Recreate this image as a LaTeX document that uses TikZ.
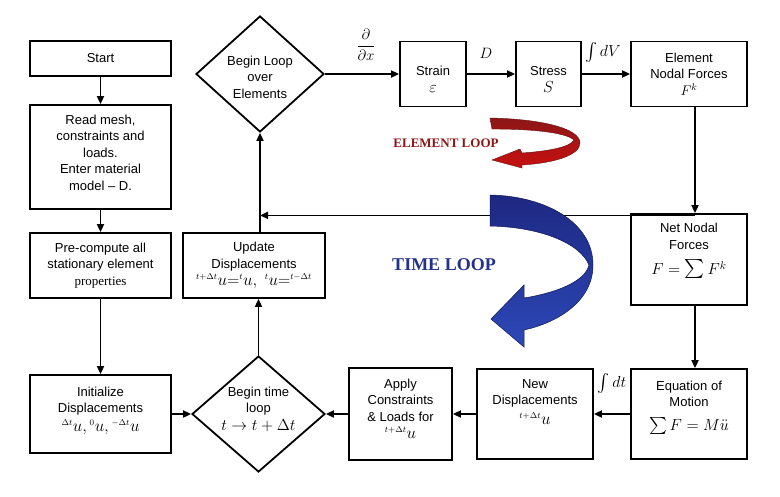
\documentclass[tikz,border=0pt]{standalone}
\usepackage{fix-cm}
\usepackage{graphicx}
\usepackage{fontspec}
\setmainfont{Liberation Sans}
\newfontfamily\loopserif{Liberation Serif}
\usetikzlibrary{arrows.meta,shapes.geometric,calc}
\definecolor{elred}{RGB}{140,22,22}
\definecolor{elredlight}{RGB}{200,16,16}
\definecolor{tlblue}{RGB}{36,50,140}
\definecolor{tlbluedark}{RGB}{30,40,130}
\definecolor{tlbluelight}{RGB}{44,72,184}
\newcommand{\bigsum}[1]{\mathop{\raisebox{-0.25ex}{\scalebox{#1}{$\textstyle\sum$}}}}
\newcommand{\bigint}[1]{\mathop{\raisebox{-0.3ex}{\scalebox{#1}{$\textstyle\int$}}}}
\newcommand{\sss}{\scriptscriptstyle}
\begin{document}
\begin{tikzpicture}[x=1pt,y=-1pt,
  box/.style={draw,line width=1.8pt,rectangle,inner sep=2pt,align=center,
    font=\fontsize{13}{16.5}\selectfont},
  dia/.style={draw,line width=1.8pt,diamond,inner sep=0pt},
  txt/.style={align=center,inner sep=0pt,font=\fontsize{13}{16.5}\selectfont},
  lbl/.style={inner sep=0pt,font=\fontsize{15}{16}\selectfont},
  conn/.style={line width=1.8pt,-{Triangle[length=8pt,width=7pt]}},
  loopl/.style={inner sep=0pt,font=\loopserif\bfseries}]
\useasboundingbox (0,0) rectangle (780,496);
\fill[white] (0,0) rectangle (780,496);

% left column
\node[box,minimum width=141pt,minimum height=35pt] (start) at (100.5,58.5) {Start};
\node[box,minimum width=141pt,minimum height=104pt] (read) at (100.5,157)
  {Read mesh,\\constraints and\\loads.\\Enter material\\model -- D.\\[-8pt]};
\node[box,minimum width=141pt,minimum height=65pt] (pre) at (100.5,265.5)
  {Pre-compute all\\stationary element\\{\loopserif properties}};
\node[box,minimum width=141pt,minimum height=78pt] (init) at (100.5,414)
  {Initialize\\Displacements\\[2pt]{\fontsize{17}{18}\selectfont$^{\sss\Delta t}u,{}^{\sss 0}u,{}^{\sss-\Delta t}u$}\\[-7pt]};

% middle column
\node[box,minimum width=142pt,minimum height=65pt] (upd) at (254,265.5)
  {Update\\Displacements\\[1pt]{\fontsize{17}{16}\selectfont$^{\sss t+\Delta t}u{=}{}^{\sss t}u,\;{}^{\sss t}u{=}{}^{\sss t-\Delta t}$}};
\node[dia,minimum width=128pt,minimum height=116pt] (bel) at (260,74) {};
\node[txt] (beltext) at (260,77) {Begin Loop\\over\\Elements};
\node[dia,minimum width=133pt,minimum height=116pt] (tdia) at (258.5,414) {};
\node[txt] (tdiatext) at (258.5,409) {Begin time\\loop\\[1pt]{\fontsize{16}{17}\selectfont$t\rightarrow t+\Delta t$}};

% top row
\node[box,minimum width=66pt,minimum height=65pt] (strain) at (433,74)
  {\rule{0pt}{20pt}Strain\\{\fontsize{16}{14}\selectfont$\varepsilon$}};
\node[box,minimum width=65pt,minimum height=65pt] (stress) at (548.5,74)
  {\rule{0pt}{20pt}Stress\\{\fontsize{16}{14}\selectfont$S$}};
\node[box,minimum width=116pt,minimum height=65pt] (enf) at (689,74)
  {Element\\Nodal Forces\\{\fontsize{14}{16}\selectfont$F^{k}$}};

% right column and bottom row
\node[box,minimum width=116pt,minimum height=91pt] (net) at (689,259.5)
  {Net Nodal\\Forces\\[9pt]{\fontsize{16}{18}\selectfont$F=\bigsum{1.9}F^{k}$}\\[4pt]};
\node[box,minimum width=116pt,minimum height=90pt] (eom) at (689,414)
  {Equation of\\Motion\\[7pt]{\fontsize{16}{18}\selectfont$\bigsum{1.7}F=M\ddot{u}$}\\[0pt]};
\node[box,minimum width=116pt,minimum height=90pt] (new) at (535,414)
  {New\\Displacements\\[3pt]{\fontsize{17}{18}\selectfont$^{\sss t+\Delta t}u$}\\[8pt]};
\node[box,minimum width=103pt,minimum height=92pt] (apply) at (400.5,414)
  {Apply\\Constraints\\\& Loads for\\[1pt]{\fontsize{17}{16}\selectfont$^{\sss t+\Delta t}u$}\\[-6pt]};

% connector labels
\node[lbl] (ddx) at (366,45) {$\displaystyle\frac{\partial}{\partial x}$};
\node[lbl] (dlab) at (486,53) {$D$};
\node[lbl,font=\fontsize{16}{17}\selectfont] (dvlab) at (603,52) {$\bigint{1.8}dV$};
\node[lbl,font=\fontsize{16}{17}\selectfont] (dtlab) at (612,383) {$\bigint{1.8}dt$};

% connectors
\draw[conn] (start) -- (read);
\draw[conn] (read) -- (pre);
\draw[conn] (pre) -- (init);
\draw[conn] (init.east) -- (tdia.west);
\draw[conn] (tdia.north) -- (tdia.north |- upd.south);
\draw[conn] (upd.north -| bel.south) -- (bel.south);
\draw[conn] (bel.east) -- (strain.west);
\draw[conn] (strain) -- (stress);
\draw[conn] (stress) -- (enf);
\coordinate (junc) at ($(enf.south)+(6,108)$);
\draw[conn] ([xshift=6pt]enf.south) -- ([xshift=6pt]net.north);
\draw[conn] (junc) -- (junc -| bel.south);
\draw[conn] ([xshift=6pt]net.south) -- ([xshift=6pt]eom.north);
\draw[conn] (eom) -- (new);
\draw[conn] (new) -- (apply);
\draw[conn] (apply.west) -- (tdia.east);

% element loop arrow
\shade[top color=elred,bottom color=elredlight,draw=elred!70!black,line width=0.4pt]
  (490,118) .. controls (540,119) and (580,128) .. (580,143)
  .. controls (580,155) and (555,163) .. (522,165)
  -- (522,168) -- (492,160) -- (520,149) -- (522,153)
  .. controls (550,151) and (570,147) .. (574,140)
  .. controls (565,132) and (530,129) .. (492,129) -- cycle;
\node[loopl,text=elred,font=\loopserif\bfseries\fontsize{13}{14}\selectfont] (ellabel) at (446,143) {ELEMENT LOOP};

% time loop arrow
\shade[top color=tlbluedark,bottom color=tlbluelight,draw=tlbluedark!60!black,line width=0.5pt]
  (490,195) .. controls (545,196) and (593,222) .. (593,265)
  .. controls (593,300) and (560,322) .. (524,330)
  -- (524,347) -- (491,319) -- (524,285) -- (524,298)
  .. controls (555,293) and (585,282) .. (589,265)
  .. controls (580,243) and (540,227) .. (490,226) -- cycle;
\node[loopl,text=tlblue,font=\loopserif\bfseries\fontsize{18}{20}\selectfont] (tllabel) at (444,265) {TIME LOOP};
\end{tikzpicture}
\end{document}
